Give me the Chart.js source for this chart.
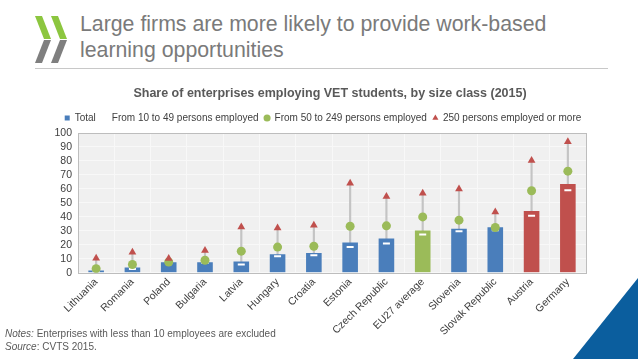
<!DOCTYPE html>
<html>
<head>
<meta charset="utf-8">
<script src="https://cdn.jsdelivr.net/npm/chart.js@4.4.1/dist/chart.umd.min.js"></script>
<style>
  html, body { margin:0; padding:0; background:#fff; }
  body { width:638px; height:359px; position:relative; overflow:hidden; font-family:'Liberation Sans', Arial, sans-serif; }
  #title { position:absolute; left:80px; top:11px; font-size:21.3px; line-height:26px; color:#7a7a7a; }
  #rule { position:absolute; left:35px; top:68px; width:573px; height:1px; background:#c8c8c8; }
  #notes { position:absolute; left:5px; top:327px; font-size:10px; line-height:13px; color:#595959; }
  #wrap { position:absolute; left:0; top:78px; width:638px; height:263px; }
  svg { position:absolute; left:0; top:0; }
</style>
</head>
<body>
<svg width="638" height="359">
  <polygon points="35,16 42,16 51,39 44,39" fill="#8cc63f"/>
  <polygon points="44,40 51,40 42,63 35,63" fill="#7f7f7f"/>
  <polygon points="51,16 58,16 67,39 60,39" fill="#8cc63f"/>
  <polygon points="60,40 67,40 58,63 51,63" fill="#7f7f7f"/>
  <polygon points="638,278 638,359 573,359" fill="#0b5e9e"/>
</svg>
<div id="title">Large firms are more likely to provide work-based<br>learning opportunities</div>
<div id="rule"></div>
<div id="wrap"><canvas id="c"></canvas></div>
<div id="notes"><i>Notes:</i> Enterprises with less than 10 employees are excluded<br><i>Source</i>: CVTS 2015.</div>
<script>
const categories = ['Lithuania','Romania','Poland','Bulgaria','Latvia','Hungary','Croatia','Estonia','Czech Republic','EU27 average','Slovenia','Slovak Republic','Austria','Germany'];
const total      = [1.6, 3.9, 7.5, 7.5, 8.2, 13.3, 14.2, 21.7, 24.6, 30.2, 31.6, 32.6, 44.2, 63.5];
const small10_49 = [1.2, 2.7, 6.8, 7.0, 6.0, 11.8, 12.6, 18.4, 21.0, 27.5, 29.7, 30.5, 40.8, 59.0];
const mid50_249  = [3.0, 6.0, 7.8, 9.0, 15.5, 18.4, 19.0, 33.3, 33.6, 40.0, 37.7, 32.4, 58.7, 72.7];
const large250   = [10.4, 14.7, 10.2, 16.0, 32.8, 32.0, 34.0, 64.0, 54.6, 57.0, 60.0, 43.5, 80.4, 93.7];
const yTicks     = [0,10,20,30,40,50,60,70,80,90,100];

const BLUE = '#4a7ebb', GREEN = '#9bbb59', RED = '#c0504d';
const barColors = categories.map(c => c === 'EU27 average' ? GREEN : (c === 'Austria' || c === 'Germany') ? RED : BLUE);
const whisker = categories.map((c, i) => [Math.min(small10_49[i], mid50_249[i], large250[i]), Math.max(small10_49[i], mid50_249[i], large250[i])]);

const font = "'Liberation Sans', Arial, sans-serif";

const areaPlugin = {
  id: 'area',
  afterLayout(chart) {
    const t = chart.titleBlock, l = chart.legend;
    if (t) { t.left += 32; t.right += 32; }
    if (l) { l.left += 25; l.right += 25; }
  },
  beforeDraw(chart) {
    const a = chart.chartArea, ctx = chart.ctx;
    ctx.save();
    ctx.fillStyle = '#f0f0f0';
    ctx.fillRect(a.left, a.top, a.right - a.left, a.bottom - a.top);
    ctx.restore();
  },
  afterDatasetsDraw(chart) {
    const a = chart.chartArea, ctx = chart.ctx;
    ctx.save();
    ctx.strokeStyle = '#bdbdbd';
    ctx.lineWidth = 1;
    ctx.strokeRect(Math.round(a.left) + 0.5, Math.round(a.top) + 0.5, Math.round(a.right - a.left), Math.round(a.bottom - a.top));
    ctx.restore();
  }
};

new Chart(document.getElementById('c'), {
  type: 'bar',
  data: {
    labels: categories,
    datasets: [
      { type: 'bar', label: 'Total', data: total, backgroundColor: barColors, pointStyle: 'rect',
        grouped: false, categoryPercentage: 1, barPercentage: 0.43, order: 4 },
      { type: 'line', label: 'From 10 to 49 persons employed', data: small10_49, showLine: false,
        pointStyle: 'line', pointRadius: 3.5, pointBorderWidth: 2, borderColor: '#ffffff', backgroundColor: '#ffffff',
        pointHoverRadius: 3.5, order: 3 },
      { type: 'line', label: 'From 50 to 249 persons employed', data: mid50_249, showLine: false,
        pointStyle: 'circle', pointRadius: 4.5, pointBorderWidth: 0, borderColor: GREEN, backgroundColor: GREEN, order: 2 },
      { type: 'line', label: '250 persons employed or more', data: large250, showLine: false,
        pointStyle: 'triangle', pointRadius: 4.5, pointBorderWidth: 0, borderColor: RED, backgroundColor: RED, order: 1 },
      { type: 'bar', label: 'range', data: whisker, backgroundColor: '#c4c4c4', grouped: false,
        barThickness: 1.5, order: 9 }
    ]
  },
  options: {
    responsive: true,
    maintainAspectRatio: false,
    animation: false,
    devicePixelRatio: 1,
    layout: { padding: { left: 10, right: 52, top: 0, bottom: 0 } },
    plugins: {
      tooltip: { enabled: false },
      title: {
        display: true,
        text: 'Share of enterprises employing VET students, by size class (2015)',
        color: '#595959',
        font: { family: font, size: 12.5, weight: 'bold' },
        padding: { top: 8, bottom: 6 }
      },
      legend: {
        display: true,
        labels: {
          filter: item => item.text !== 'range',
          sort: (a, b) => a.datasetIndex - b.datasetIndex,
          usePointStyle: true,
          boxWidth: 5, boxHeight: 5,
          padding: 6,
          color: '#404040',
          font: { family: font, size: 10 },
          generateLabels(chart) {
            const items = Chart.defaults.plugins.legend.labels.generateLabels(chart);
            items.forEach(it => {
              if (it.datasetIndex === 0) { it.fillStyle = BLUE; it.strokeStyle = BLUE; it.lineWidth = 0; }
            });
            return items;
          }
        }
      }
    },
    scales: {
      x: {
        grid: { color: '#f8f8f8', drawTicks: false },
        border: { display: false },
        ticks: { color: '#404040', font: { family: font, size: 10.5 }, maxRotation: 45, minRotation: 45, padding: 3, autoSkip: false }
      },
      y: {
        min: 0, max: 100,
        afterBuildTicks(axis) { axis.ticks = yTicks.map(v => ({ value: v })); },
        afterFit(axis) { axis.width = 68; },
        grid: { color: '#f8f8f8', drawTicks: false },
        border: { display: false },
        ticks: { color: '#404040', font: { family: font, size: 10.5 }, padding: 6, autoSkip: false }
      }
    }
  },
  plugins: [areaPlugin]
});
</script>
</body>
</html>
